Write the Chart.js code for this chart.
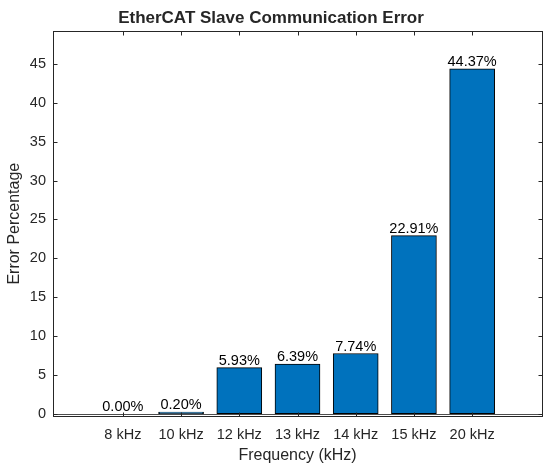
<!DOCTYPE html>
<html><head><meta charset="utf-8">
<script src="https://cdn.jsdelivr.net/npm/chart.js@4"></script>
<style>html,body{margin:0;padding:0;background:#fff}#wrap{width:550px;height:471px}</style>
</head><body><div id="wrap"><canvas id="c" width="550" height="471"></canvas></div>
<script>
const categories = ['8 kHz','10 kHz','12 kHz','13 kHz','14 kHz','15 kHz','20 kHz'];
const errorValues = [0.00, 0.20, 5.93, 6.39, 7.74, 22.91, 44.37];
const valueLabels = ['0.00%','0.20%','5.93%','6.39%','7.74%','22.91%','44.37%'];
const yTicks = [0,5,10,15,20,25,30,35,40,45];

const FONT = '"Liberation Sans", Arial, Helvetica, sans-serif';
const AX = '#262626';

const points = errorValues.map((v,i)=>({x:i+1,y:v}));

const decor = {
  id:'decor',
  afterDatasetsDraw(chart){
    const ctx = chart.ctx, a = chart.chartArea;
    const xs = chart.scales.x, ys = chart.scales.y;
    ctx.save();
    ctx.strokeStyle = '#4d4d4d'; ctx.lineWidth = 1;
    const y0 = Math.round(ys.getPixelForValue(0))+0.5;
    ctx.beginPath(); ctx.moveTo(a.left,y0); ctx.lineTo(a.right,y0); ctx.stroke();
    ctx.fillStyle = '#000'; ctx.font = '14.5px '+FONT;
    ctx.textAlign='center'; ctx.textBaseline='alphabetic';
    chart.getDatasetMeta(0).data.forEach((el,i)=>{
      ctx.fillText(valueLabels[i], el.x, el.y-3);
    });
    ctx.strokeStyle = AX; ctx.lineWidth = 1;
    const L=Math.round(a.left)+0.5, R=Math.round(a.right)+0.5, T=Math.round(a.top)+0.5, B=Math.round(a.bottom)+0.5;
    ctx.strokeRect(L,T,R-L,B-T);
    const tl=4;
    ctx.beginPath();
    yTicks.forEach(t=>{
      const y=Math.round(ys.getPixelForValue(t))+0.5;
      ctx.moveTo(L,y); ctx.lineTo(L+tl,y);
      ctx.moveTo(R,y); ctx.lineTo(R-tl,y);
    });
    categories.forEach((c,i)=>{
      const x=Math.round(xs.getPixelForValue(i+1))+0.5;
      ctx.moveTo(x,B); ctx.lineTo(x,B-tl);
      ctx.moveTo(x,T); ctx.lineTo(x,T+tl);
    });
    ctx.stroke();
    ctx.restore();
  }
};

new Chart(document.getElementById('c'),{
  type:'bar',
  data:{datasets:[{data:points,backgroundColor:'#0072BD',borderColor:'#000',borderWidth:1,
    barThickness:45,borderSkipped:false}]},
  options:{
    responsive:false,animation:false,devicePixelRatio:1,
    layout:{padding:{top:0,right:8,left:0,bottom:0}},
    plugins:{legend:{display:false},tooltip:{enabled:false},
      title:{display:true,text:'EtherCAT Slave Communication Error',color:AX,
        font:{family:FONT,size:17,weight:'bold'},padding:{top:8,bottom:3}}},
    scales:{
      x:{type:'linear',min:-0.2,max:8.2,offset:false,
        afterBuildTicks(s){s.ticks=categories.map((c,i)=>({value:i+1}));},
        afterFit(s){s.height=55;},
        grid:{display:false,drawTicks:false,offset:false},border:{display:false},
        ticks:{color:AX,font:{family:FONT,size:14.5},padding:10,maxRotation:0,autoSkip:false,
          callback:(v)=>categories[v-1]},
        title:{display:true,text:'Frequency (kHz)',color:AX,font:{family:FONT,size:16},padding:{top:0,bottom:6}}
      },
      y:{min:-0.3,max:49.2,
        afterBuildTicks(s){s.ticks=yTicks.map(v=>({value:v}));},
        afterFit(s){s.width=53;},
        grid:{display:false,drawTicks:false},border:{display:false},
        ticks:{color:AX,font:{family:FONT,size:14.5},padding:7},
        title:{display:true,text:'Error Percentage',color:AX,font:{family:FONT,size:16},padding:{top:5,bottom:0}}
      }
    }
  },
  plugins:[decor]
});
</script></body></html>
